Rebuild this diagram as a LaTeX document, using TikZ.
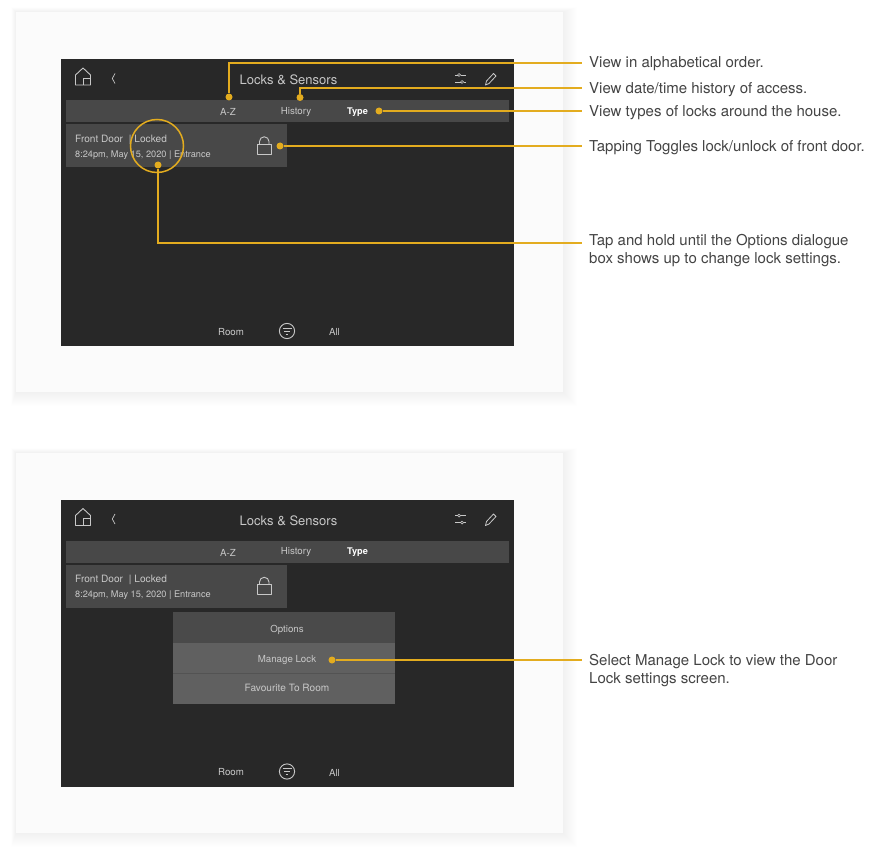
\documentclass[tikz,border=0pt]{standalone}
\usepackage{fontspec}
\setmainfont{TeX Gyre Heros}
\definecolor{gold}{HTML}{E3AC1F}
\definecolor{scr}{HTML}{282828}
\definecolor{barc}{HTML}{484848}
\definecolor{optc}{HTML}{4A4A4A}
\definecolor{itemc}{HTML}{606060}
\definecolor{panelc}{HTML}{FBFBFB}
\definecolor{uitext}{HTML}{C8C8C8}
\definecolor{lab}{HTML}{444444}
\definecolor{divc}{HTML}{535353}
\tikzset{
  x=1pt,y=-1pt,
  ui/.style={text=uitext,inner sep=0,font=\fontsize{9.7}{11}\selectfont},
  icon/.style={draw=#1,line width=0.9pt,line join=round},
  icon/.default=uitext,
  lab/.style={anchor=west,inner sep=0,align=left,text=lab,font=\fontsize{15}{18.2}\selectfont},
  dot/.style={circle,fill=gold,inner sep=0,minimum size=7pt},
  lead/.style={draw=gold,line width=1.8pt,shorten >=7pt},
}
\newcommand{\panelbase}[1]{%
  \begin{scope}[yshift=-#1pt]
    \foreach \g in {1,...,14}{
      \fill[black,opacity=0.005] (16-\g/3,12-\g/3) rectangle (563+\g,392+\g);}
    \fill[panelc] (16,12) rectangle (563,392);
  \end{scope}}
\newcommand{\screen}[1]{%
  \begin{scope}[yshift=-#1pt]
    \fill[scr] (61,59) rectangle (514,346);
    \fill[barc] (66,100.5) rectangle (509,122);
    \fill[barc] (66,124) rectangle (287,167);
    % home
    \draw[icon] (75.5,85) -- (75.5,75) -- (83,68) -- (90.5,75) -- (90.5,85) -- cycle;
    \draw[icon] (83,85) -- (83,78) -- (90.5,78);
    % back
    \draw[icon,line width=0.7pt] (115,73.5) -- (112.3,78.5) -- (115,83.5);
    % sliders
    \draw[icon,line width=0.7pt] (455,75) -- (457.5,75) (460.5,75) -- (466,75);
    \draw[icon,line width=0.7pt] (455,82) -- (460.5,82) (463.5,82) -- (466,82);
    \draw[icon,line width=0.7pt] (459,75) circle[radius=1.5];
    \draw[icon,line width=0.7pt] (462,82) circle[radius=1.5];
    % pencil
    \draw[icon,line width=0.8pt] (485.5,85) -- (486.5,81) -- (493.5,73.5) -- (496,76) -- (489,83.5) -- cycle;
    % lock
    \draw[icon] (257.5,144) rectangle (271,154);
    \draw[icon] (259.5,144) -- (259.5,141.5) arc[start angle=180,end angle=360,radius=4.75] -- (269,144);
    % filter
    \draw[icon] (287,331) circle[radius=7.6];
    \draw[icon,line width=0.8pt] (282.5,328) -- (291.5,328) (284,331) -- (290,331) (285.7,334) -- (288.3,334);
    % texts
    \node[ui,font=\fontsize{13}{14}\selectfont] at (288.5,80) {Locks \& Sensors};
    \node[ui] at (228,112) {A-Z};
    \node[ui] at (296,112) {History};
    \node[ui,text=white,font=\fontsize{9.2}{11}\bfseries\selectfont] at (357.5,112) {Type};
    \node[ui,anchor=west,font=\fontsize{10.1}{11}\selectfont] at (75,139.5) {Front Door\hspace{3pt} |\hspace{3pt}Locked};
    \node[ui,anchor=west,font=\fontsize{9.2}{11}\selectfont] at (75,155) {8:24pm, May 15, 2020 | Entrance};
    \node[ui] at (231,332) {Room};
    \node[ui] at (334.5,332) {All};
  \end{scope}}
\begin{document}
\begin{tikzpicture}
\useasboundingbox (0,0) rectangle (881,856);
\fill[white] (0,0) rectangle (881,856);
\panelbase{0}
\panelbase{441}
\screen{0}
\screen{440.5}
% second screen: dialog
\fill[optc] (173,612) rectangle (394.5,643);
\fill[itemc] (173,643) rectangle (394.5,704);
\draw[divc,line width=0.6pt] (173,673.5) -- (394.5,673.5);
\node[ui] (opt) at (287,629.5) {Options};
\node[ui] (mng) at (287,660) {Manage Lock};
\node[ui,font=\fontsize{10.1}{11}\selectfont] (fav) at (287,688) {Favourite To Room};
% tap circle
\node[draw=gold,line width=1.5pt,circle,minimum size=53pt,inner sep=0] (tap) at (157,146) {};
% dots
\node[dot] (d1) at (229,97) {};
\node[dot] (d2) at (300,97.5) {};
\node[dot] (d3) at (379,111) {};
\node[dot] (d4) at (280,146) {};
\node[dot] (d5) at (158,165) {};
\node[dot] (d6) at (332,660) {};
% labels
\node[lab] (l1) at (589,64) {View in alphabetical order.};
\node[lab] (l2) at (589,89.5) {View date/time history of access.};
\node[lab] (l3) at (589,113) {View types of locks around the house.};
\node[lab] (l4) at (589,148) {Tapping Toggles lock/unlock of front door.};
\node[lab] (l5) at (589,250.5) {Tap and hold until the Options dialogue\\box shows up to change lock settings.};
\node[lab] (l6) at (589,670.5) {Select Manage Lock to view the Door\\Lock settings screen.};
% connectors
\draw[lead] (d1) |- ([yshift=1pt]l1.west);
\draw[lead] (d2) |- ([yshift=1.5pt]l2.west);
\draw[lead] (d3) -- ([yshift=2pt]l3.west);
\draw[lead] (d4) -- ([yshift=2pt]l4.west);
\draw[lead] (d5) |- ([yshift=7.5pt]l5.west);
\draw[lead] (d6) -- ([yshift=10.5pt]l6.west);
\end{tikzpicture}
\end{document}
